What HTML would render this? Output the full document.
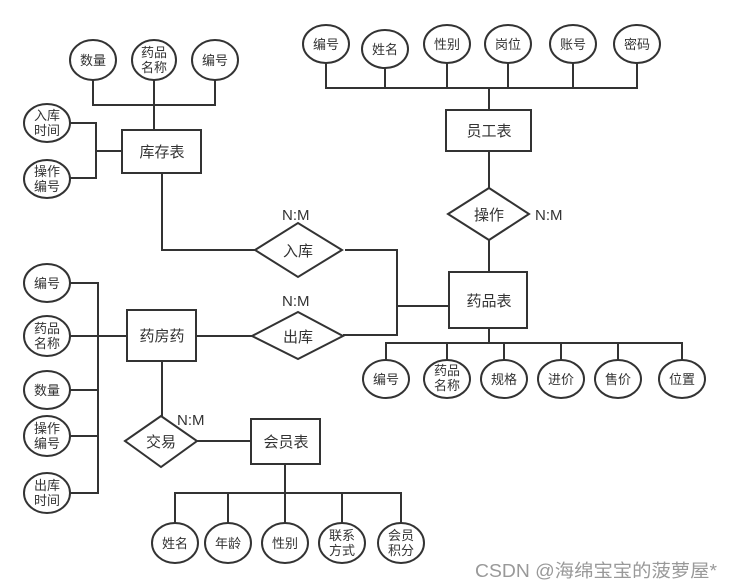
<!DOCTYPE html>
<html><head><meta charset="utf-8"><style>
html,body{margin:0;padding:0;background:#fff;}
svg{display:block;}
text{font-family:"Liberation Sans","Noto Sans CJK SC",sans-serif;fill:#333;}
</style></head><body>
<svg width="731" height="588" viewBox="0 0 731 588" xmlns="http://www.w3.org/2000/svg">
<g stroke="#333" stroke-width="2" fill="none">
<polyline points="93,80 93,105 215,105 215,80"/>
<line x1="154" y1="80" x2="154" y2="130"/>
<rect x="122" y="130" width="79" height="43" fill="#fff"/>
<polyline points="70,123 96,123 96,178 70,178"/>
<line x1="96" y1="151" x2="122" y2="151"/>
<polyline points="162,173 162,250 255,250"/>
<polygon points="255,250 298,223 342,250 298,277" fill="#fff"/>
<polyline points="326,63 326,88 637,88 637,63"/>
<line x1="385" y1="68" x2="385" y2="88"/><line x1="447" y1="63" x2="447" y2="88"/>
<line x1="508" y1="63" x2="508" y2="88"/><line x1="573" y1="63" x2="573" y2="88"/>
<line x1="489" y1="88" x2="489" y2="110"/>
<rect x="446" y="110" width="85" height="41" fill="#fff"/>
<line x1="489" y1="151" x2="489" y2="188"/>
<polygon points="448,214 489,188 529,214 489,240" fill="#fff"/>
<line x1="489" y1="240" x2="489" y2="272"/>
<rect x="449" y="272" width="78" height="56" fill="#fff"/>
<polyline points="386,360 386,343 682,343 682,360"/>
<line x1="489" y1="328" x2="489" y2="343"/>
<line x1="447" y1="343" x2="447" y2="360"/><line x1="504" y1="343" x2="504" y2="360"/>
<line x1="561" y1="343" x2="561" y2="360"/><line x1="618" y1="343" x2="618" y2="360"/>
<polyline points="345,250 397,250 397,335 343,335"/>
<line x1="397" y1="306" x2="449" y2="306"/>
<polyline points="70,283 98,283 98,493 70,493"/>
<line x1="70" y1="336" x2="127" y2="336"/><line x1="70" y1="390" x2="98" y2="390"/><line x1="70" y1="436" x2="98" y2="436"/>
<rect x="127" y="310" width="69" height="51" fill="#fff"/>
<line x1="196" y1="336" x2="252" y2="336"/>
<polygon points="252,336 298,312 343,336 298,359" fill="#fff"/>
<line x1="162" y1="361" x2="162" y2="416"/>
<polygon points="125,441 161,416 197,441 161,467" fill="#fff"/>
<line x1="197" y1="441" x2="251" y2="441"/>
<rect x="251" y="419" width="69" height="45" fill="#fff"/>
<line x1="285" y1="464" x2="285" y2="523"/>
<polyline points="175,523 175,493 401,493 401,523"/>
<line x1="228" y1="493" x2="228" y2="523"/><line x1="342" y1="493" x2="342" y2="523"/>
<g fill="#fff">
<ellipse cx="93" cy="60" rx="23" ry="20"/><ellipse cx="154" cy="60" rx="22" ry="20"/><ellipse cx="215" cy="60" rx="23" ry="20"/>
<ellipse cx="47" cy="123" rx="23" ry="19"/><ellipse cx="47" cy="179" rx="23" ry="19"/>
<ellipse cx="326" cy="44" rx="23" ry="19"/><ellipse cx="385" cy="49" rx="23" ry="19"/><ellipse cx="447" cy="44" rx="23" ry="19"/>
<ellipse cx="508" cy="44" rx="23" ry="19"/><ellipse cx="573" cy="44" rx="23" ry="19"/><ellipse cx="637" cy="44" rx="23" ry="19"/>
<ellipse cx="386" cy="379" rx="23" ry="19"/><ellipse cx="447" cy="379" rx="23" ry="19"/><ellipse cx="504" cy="379" rx="23" ry="19"/>
<ellipse cx="561" cy="379" rx="23" ry="19"/><ellipse cx="618" cy="379" rx="23" ry="19"/><ellipse cx="682" cy="379" rx="23" ry="19"/>
<ellipse cx="47" cy="283" rx="23" ry="19"/><ellipse cx="47" cy="336" rx="23" ry="20"/><ellipse cx="47" cy="390" rx="23" ry="19"/>
<ellipse cx="47" cy="436" rx="23" ry="20"/><ellipse cx="47" cy="493" rx="23" ry="20"/>
<ellipse cx="175" cy="543" rx="23" ry="20"/><ellipse cx="228" cy="543" rx="23" ry="20"/><ellipse cx="285" cy="543" rx="23" ry="20"/>
<ellipse cx="342" cy="543" rx="23" ry="20"/><ellipse cx="401" cy="543" rx="23" ry="20"/>
</g>
</g>
<g font-size="13" text-anchor="middle">
<text x="93" y="65">数量</text><text x="154" y="57">药品</text><text x="154" y="72">名称</text><text x="215" y="65">编号</text>
<text x="47" y="120">入库</text><text x="47" y="135">时间</text><text x="47" y="176">操作</text><text x="47" y="191">编号</text>
<text x="326" y="49">编号</text><text x="385" y="54">姓名</text><text x="447" y="49">性别</text><text x="508" y="49">岗位</text><text x="573" y="49">账号</text><text x="637" y="49">密码</text>
<text x="386" y="384">编号</text><text x="447" y="375">药品</text><text x="447" y="390">名称</text><text x="504" y="384">规格</text><text x="561" y="384">进价</text><text x="618" y="384">售价</text><text x="682" y="384">位置</text>
<text x="47" y="288">编号</text><text x="47" y="333">药品</text><text x="47" y="348">名称</text><text x="47" y="395">数量</text>
<text x="47" y="433">操作</text><text x="47" y="448">编号</text><text x="47" y="490">出库</text><text x="47" y="505">时间</text>
<text x="175" y="548">姓名</text><text x="228" y="548">年龄</text><text x="285" y="548">性别</text>
<text x="342" y="540">联系</text><text x="342" y="555">方式</text><text x="401" y="540">会员</text><text x="401" y="555">积分</text>
</g>
<g font-size="15" text-anchor="middle">
<text x="162" y="157">库存表</text><text x="489" y="136">员工表</text><text x="489" y="306">药品表</text>
<text x="162" y="341">药房药</text><text x="286" y="447">会员表</text>
<text x="298" y="256">入库</text><text x="298" y="342">出库</text><text x="489" y="220">操作</text><text x="161" y="447">交易</text>
</g>
<g font-size="15">
<text x="282" y="220">N:M</text><text x="282" y="306">N:M</text><text x="535" y="220">N:M</text><text x="177" y="425">N:M</text>
</g>
<text x="475" y="577" font-size="18" textLength="242" lengthAdjust="spacingAndGlyphs" style="fill:#999">CSDN @海绵宝宝的菠萝屋*</text>
</svg>
</body></html>
